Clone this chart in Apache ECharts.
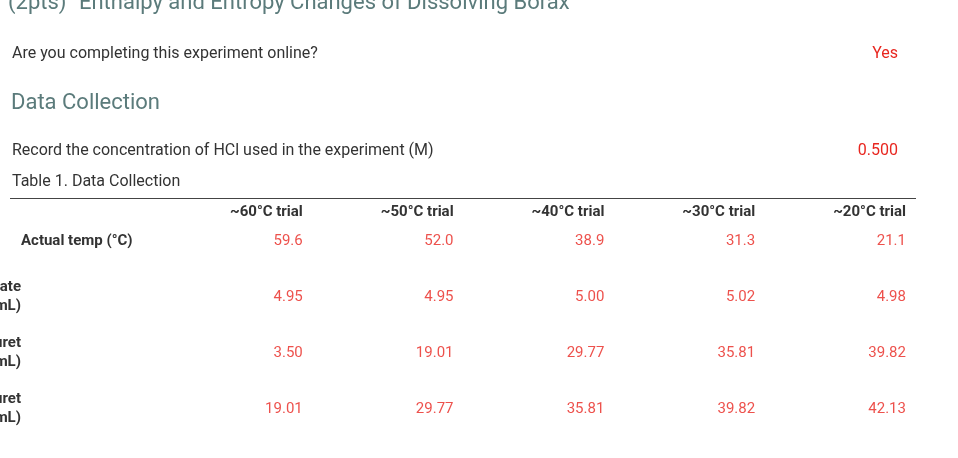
<!DOCTYPE html>
<html><head><meta charset="utf-8">
<script src="https://cdn.jsdelivr.net/npm/echarts@6/dist/echarts.min.js"></script>
<style>html,body{margin:0;padding:0;background:#fff}#c{width:958px;height:458px}</style>
</head><body><div id="c"></div>
<script>
const columns = ['~60°C trial','~50°C trial','~40°C trial','~30°C trial','~20°C trial'];
const rows = ['Actual temp (°C)','Vol. borate\nsolution (mL)','Initial buret\nreading (mL)','Final buret\nreading (mL)'];
const actualTemp = ['59.6','52.0','38.9','31.3','21.1'];
const volBorate = ['4.95','4.95','5.00','5.02','4.98'];
const initialBuret = ['3.50','19.01','29.77','35.81','39.82'];
const finalBuret = ['19.01','29.77','35.81','39.82','42.13'];
const tableValues = [actualTemp, volBorate, initialBuret, finalBuret];

const points = [];
tableValues.forEach((r, ri) => r.forEach((v, ci) => points.push({value:[ci, rows[ri]], label:{formatter:v}})));

const red = '#e8261f', dark = '#333', teal = '#5b7b7b';
const font = 'Roboto';
const chart = echarts.init(document.getElementById('c'), null, {renderer:'canvas'});
chart.setOption({
  animation:false,
  textStyle:{fontFamily:font},
  graphic:[
    {type:'text', left:8, top:-8, style:{text:'(2pts) "Enthalpy and Entropy Changes of Dissolving Borax"', fontSize:22, fill:teal, fontFamily:font}},
    {type:'text', left:12, top:46, style:{text:'Are you completing this experiment online?', fontSize:16, fill:dark, fontFamily:font}},
    {type:'text', right:60, top:46, style:{text:'Yes', fontSize:16, fill:red, fontFamily:font}},
    {type:'text', left:11, top:92, style:{text:'Data Collection', fontSize:22, fill:teal, fontFamily:font}},
    {type:'text', left:12, top:143, style:{text:'Record the concentration of HCl used in the experiment (M)', fontSize:16, fill:dark, fontFamily:font}},
    {type:'text', right:60, top:143, style:{text:'0.500', fontSize:16, fill:red, fontFamily:font}},
    {type:'text', left:12, top:174, style:{text:'Table 1. Data Collection', fontSize:16, fill:dark, fontFamily:font}},
    {type:'line', shape:{x1:10, y1:198.5, x2:916, y2:198.5}, style:{stroke:'#444', lineWidth:1}}
  ],
  grid:{left:152, right:52, top:213, bottom:21, outerBoundsMode:'none', containLabel:false},
  xAxis:{type:'value', position:'top', min:-1, max:4, interval:1,
    axisLine:{show:false}, axisTick:{show:false}, splitLine:{show:false},
    axisLabel:{align:'right', verticalAlign:'middle', margin:1, fontSize:15, fontWeight:'bold', color:dark,
      formatter:v => (v>=0 && v<columns.length) ? columns[v] : ''}},
  yAxis:{type:'category', inverse:true,
    data: rows.map(r => r.indexOf('\n')>=0 ? {value:r, textStyle:{padding:[0,0,19,0]}} : r),
    axisLine:{show:false}, axisTick:{show:false}, splitLine:{show:false},
    axisLabel:{interval:0, align:'left', margin:131, fontSize:15, fontWeight:'bold', color:dark, lineHeight:19}},
  series:[{type:'scatter', symbolSize:0.1, data:points,
    label:{show:true, position:'left', distance:0, color:red, fontSize:15}}]
});
</script></body></html>
